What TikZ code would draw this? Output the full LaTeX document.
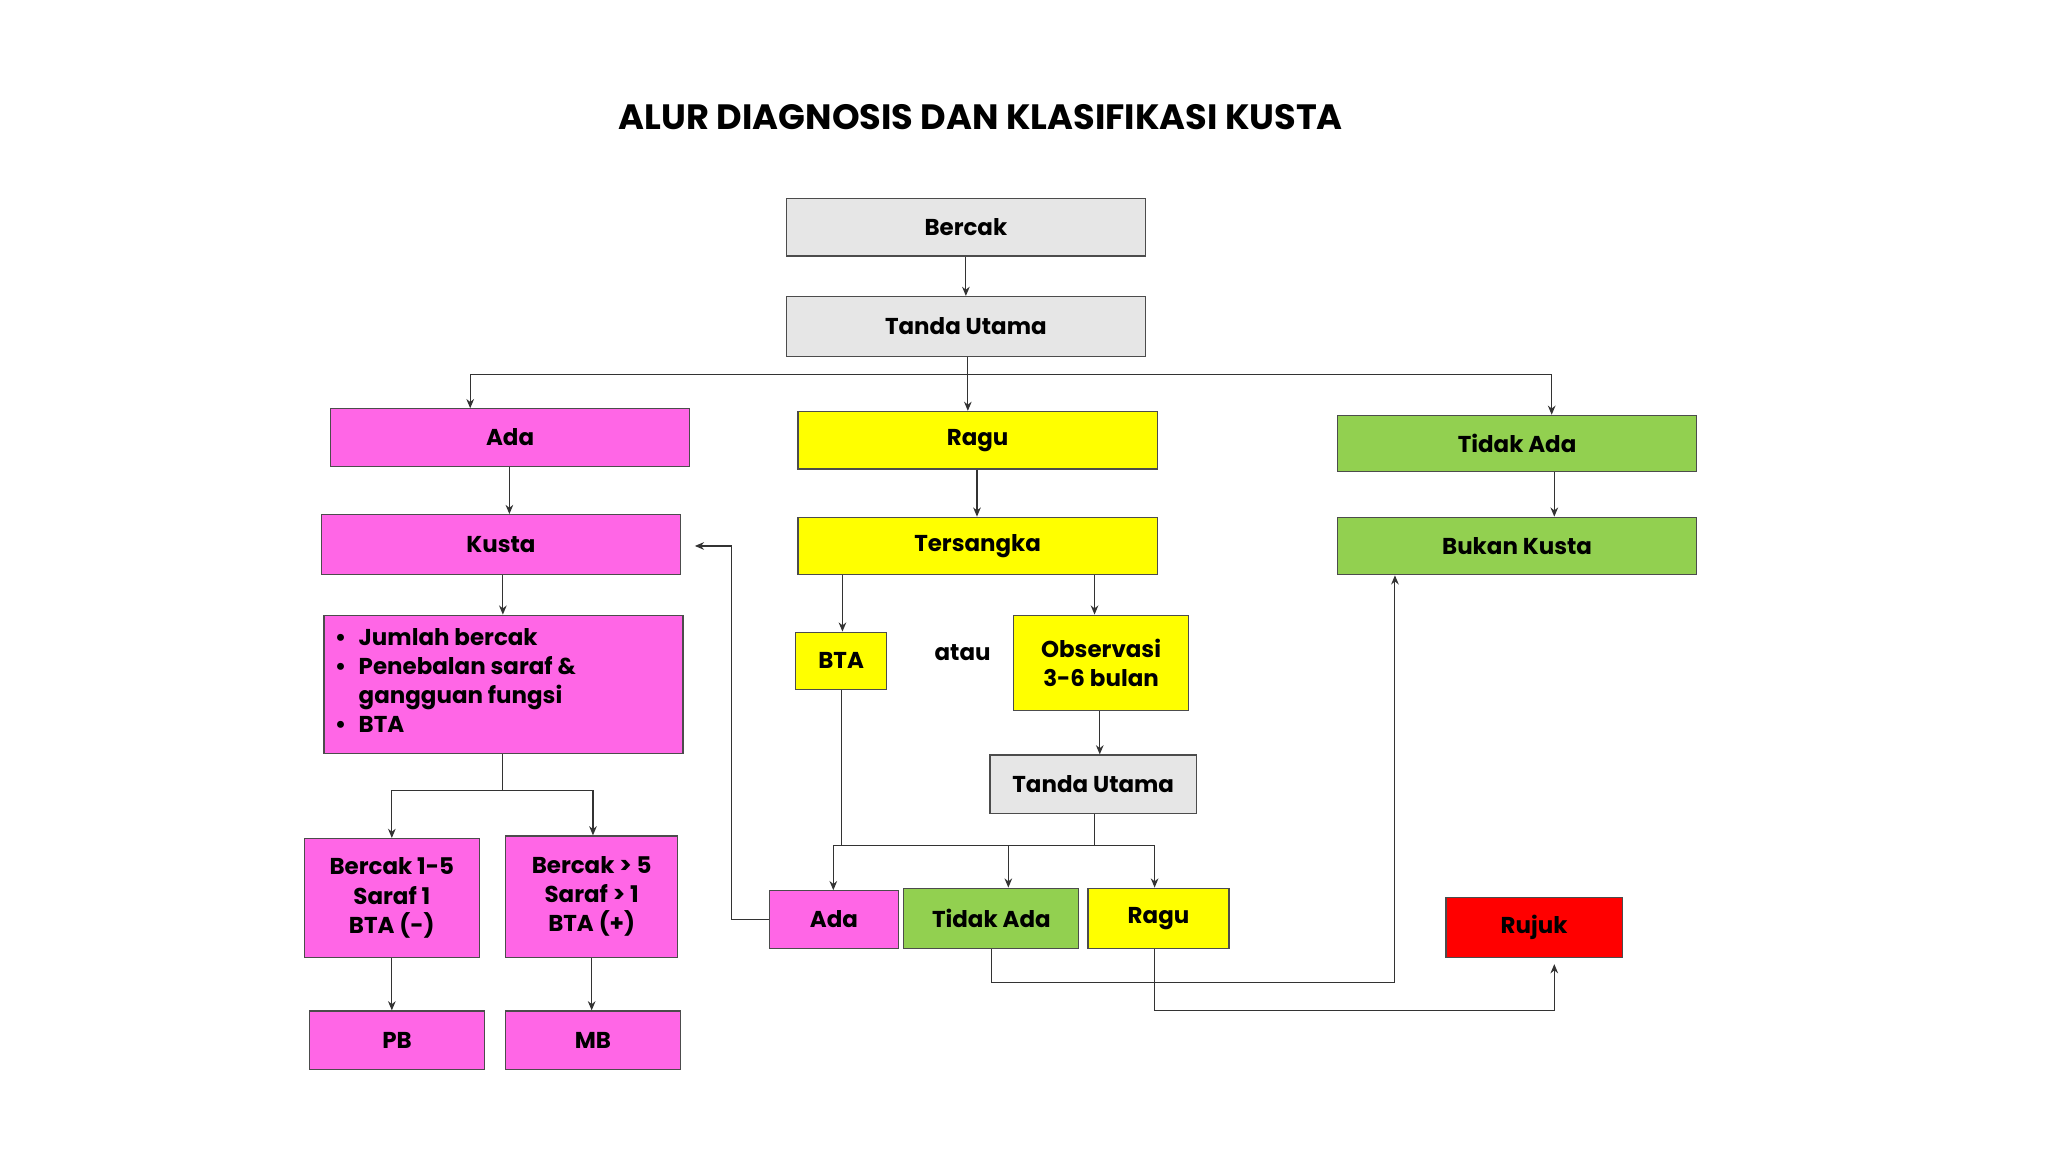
\documentclass[tikz,border=0pt]{standalone}
\usepackage{fontspec}
\setmainfont{Poppins}
\usetikzlibrary{arrows.meta}
\definecolor{mag}{HTML}{FF66E6}
\definecolor{yel}{HTML}{FFFF00}
\definecolor{grn}{HTML}{92D050}
\definecolor{gry}{HTML}{E6E6E6}
\definecolor{redd}{HTML}{FF0000}
\tikzset{box/.style={draw=black!70,line width=0.8pt,inner sep=0pt,align=center,font=\fontsize{15}{19}\selectfont\bfseries},
 con/.style={draw=black!80,line width=0.7pt},
 arr/.style={con,-{Stealth[length=6pt,width=5pt]}}}
\newcommand\bx[7]{\node[box,fill=#6,minimum width={(#4-#2)*0.03cm},minimum height={(#5-#3)*0.03cm}] (#1) at ({(#2+#4)/2},{(#3+#5)/2}) {#7};}
\begin{document}
\begin{tikzpicture}[x=0.03cm,y=-0.03cm]
\path[use as bounding box,fill=white] (0,0) rectangle (1568,882);
\node[font=\fontsize{23}{26}\selectfont\bfseries] (title) at (751,90) {ALUR DIAGNOSIS DAN KLASIFIKASI KUSTA};
\bx{bercak}{602}{152}{877}{196}{gry}{Bercak}
\bx{tu}{602}{227}{877}{273}{gry}{Tanda Utama}
\bx{ada}{253}{313}{528}{357}{mag}{Ada}
\bx{ragu}{611}{315}{886}{359}{yel}{Ragu}
\bx{tidak}{1024}{318}{1299}{361}{grn}{Tidak Ada}
\bx{kusta}{246}{394}{521}{440}{mag}{Kusta}
\bx{ters}{611}{396}{886}{440}{yel}{Tersangka}
\bx{bukan}{1024}{396}{1299}{440}{grn}{Bukan Kusta}
\bx{list}{248}{471}{523}{577}{mag}{}
\node[box,draw=none,fill=none,align=left,anchor=north west] (listtxt) at (256,478) {%
\begin{tabular}{@{}l@{\hspace{8pt}}l@{}}
•&Jumlah bercak\\
•&Penebalan saraf \&\\
 &gangguan fungsi\\
•&BTA
\end{tabular}};
\bx{bta}{609}{484}{679}{528}{yel}{BTA}
\node[box,draw=none] (atau) at (737,500) {atau};
\bx{obs}{776}{471}{910}{544}{yel}{Observasi\\3-6 bulan}
\bx{tu2}{758}{578}{916}{623}{gry}{Tanda Utama}
\bx{b15}{233}{642}{367}{733}{mag}{Bercak 1-5\\Saraf 1\\BTA (-)}
\bx{b5}{387}{640}{519}{733}{mag}{Bercak > 5\\Saraf > 1\\BTA (+)}
\bx{pb}{237}{774}{371}{819}{mag}{PB}
\bx{mb}{387}{774}{521}{819}{mag}{MB}
\bx{ada2}{589}{682}{688}{726}{mag}{Ada}
\bx{tidak2}{692}{680}{826}{726}{grn}{Tidak Ada}
\bx{ragu2}{833}{680}{941}{726}{yel}{Ragu}
\bx{rujuk}{1107}{687}{1242}{733}{redd}{\textcolor{black}{Rujuk}}
% connectors
\draw[arr] (bercak.south) -- (tu.north);
\coordinate (j1) at (741,287);
\draw[con] (tu.south -| j1) -- (j1);
\draw[con] (360,287) -- (1188,287);
\draw[arr] (360,287) -- (ada.north -| 360,0);
\draw[arr] (j1) -- (ragu.north -| j1);
\draw[arr] (1188,287) -- (tidak.north -| 1188,0);
\draw[arr] (tidak.south -| 1190,0) -- (bukan.north -| 1190,0);
\draw[arr] (ada.south -| 390,0) -- (kusta.north -| 390,0);
\draw[arr] (kusta.south -| 385,0) -- (list.north -| 385,0);
\draw[con] (list.south -| 385,0) -- (385,605);
\draw[con] (300,605) -- (454,605);
\draw[arr] (300,605) -- (b15.north -| 300,0);
\draw[arr] (454,605) -- (b5.north -| 454,0);
\draw[arr] (b15.south -| 300,0) -- (pb.north -| 300,0);
\draw[arr] (b5.south -| 453,0) -- (mb.north -| 453,0);
\draw[arr] (ragu.south -| 748,0) -- (ters.north -| 748,0);
\draw[arr] (ters.south -| 645,0) -- (bta.north -| 645,0);
\draw[arr] (ters.south -| 838,0) -- (obs.north -| 838,0);
\draw[arr] (obs.south -| 842,0) -- (tu2.north -| 842,0);
\draw[con] (tu2.south -| 838,0) -- (838,647);
\draw[con] (bta.south -| 644,0) -- (644,647);
\draw[con] (638,647) -- (884,647);
\draw[arr] (638,647) -- (ada2.north -| 638,0);
\draw[arr] (772,647) -- (tidak2.north -| 772,0);
\draw[arr] (884,647) -- (ragu2.north -| 884,0);
\draw[arr, shorten >=9pt] (ada2.west) -- (560,704) -- (560,418) -- (kusta.east |- 0,418);
\draw[arr] (tidak2.south -| 759,0) -- (759,752) -- (1068,752) -- (bukan.south -| 1068,0);
\draw[arr, shorten >=4pt] (ragu2.south -| 884,0) -- (884,774) -- (1190,774) -- (rujuk.south -| 1190,0);
\end{tikzpicture}
\end{document}
